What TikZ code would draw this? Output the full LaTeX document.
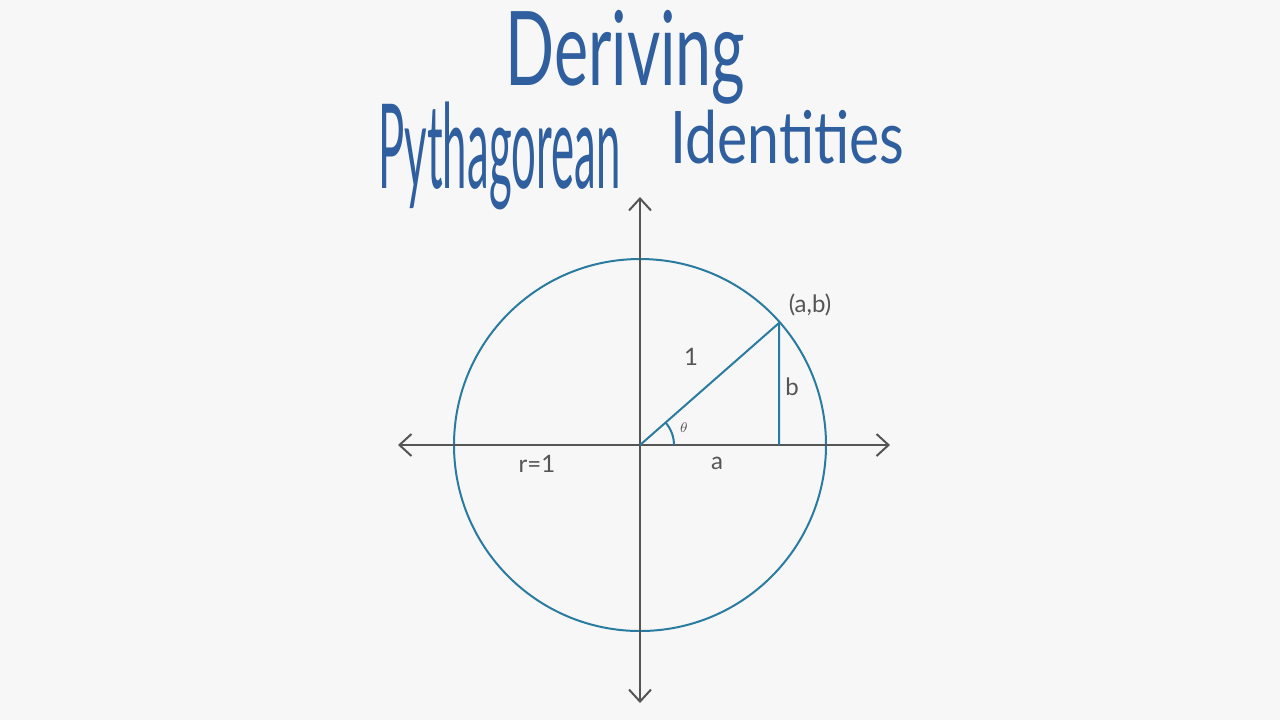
\documentclass[tikz,border=0pt]{standalone}
\usepackage{fontspec}
\setmainfont{Lato}
\usetikzlibrary{arrows.meta}
\definecolor{bgc}{HTML}{F7F7F7}
\definecolor{titleblue}{HTML}{2F5F9E}
\definecolor{circblue}{HTML}{2A7BA0}
\definecolor{axisgray}{HTML}{555555}
\tikzset{
  axis/.style={draw=axisgray, line width=1pt, {Straight Barb[length=6pt,width=11pt]}-{Straight Barb[length=6pt,width=11pt]}},
  geo/.style={draw=circblue, line width=1pt},
  lbl/.style={text=axisgray, font=\fontsize{12}{14}\selectfont, inner sep=0pt},
  ttl/.style={text=titleblue, inner sep=0pt}
}
\begin{document}
\begin{tikzpicture}[x=0.5pt,y=-0.5pt]
\fill[bgc] (0,0) rectangle (1280,720);
\useasboundingbox (0,0) rectangle (1280,720);
% title
\node[ttl, anchor=north west] (t1) at (505,10) {\resizebox*{120pt}{47pt}{Deriving}};
\node[ttl, anchor=north west] (t2) at (378,102) {\resizebox*{121pt}{54pt}{Pythagorean}};
\node[ttl, anchor=north west] (t3) at (670,110) {\resizebox*{117pt}{27pt}{Identities}};
% coordinates
\coordinate (O) at (640,445);
\coordinate (P) at (779,323);
\coordinate (F) at (779,445);
\coordinate (xl) at (398,445);
\coordinate (xr) at (890,445);
\coordinate (yt) at (640,197);
\coordinate (yb) at (640,703);
% circle
\draw[geo] (O) circle[radius=93pt];
% axes
\draw[axis] (xl) -- (xr);
\draw[axis] (yb) -- (yt);
% triangle
\draw[geo] (O) -- (P) -- (F);
\draw[geo] ([xshift=17pt]O) arc[start angle=0, end angle=41.3, radius=17pt];
% labels
\node[lbl] (l1) at (691,357) {1};
\node[lbl] (lb) at (792,387) {b};
\node[lbl, font=\fontsize{7}{8}\selectfont] (lt) at (684,428) {$\theta$};
\node[lbl] (la) at (717,463) {a};
\node[lbl] (lr) at (537,464) {r=1};
\node[lbl] (lab) at (810,305) {(a,b)};
\end{tikzpicture}
\end{document}
